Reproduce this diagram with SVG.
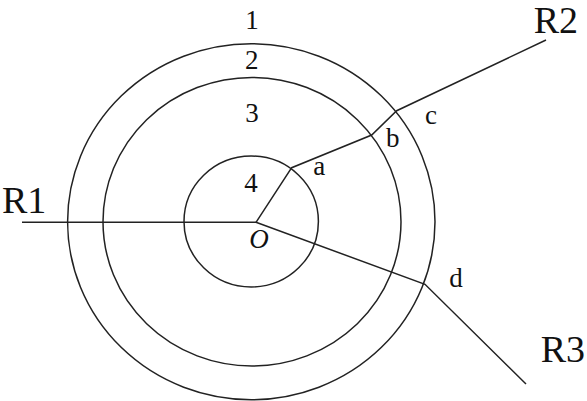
<svg xmlns="http://www.w3.org/2000/svg" width="587" height="401" viewBox="0 0 587 401">
<style>
.c{fill:none;stroke:#222;stroke-width:1.5}
.l{fill:none;stroke:#222;stroke-width:1.5;stroke-linejoin:miter}
.t{font-family:"Liberation Serif",serif;font-size:27px;fill:#111;text-anchor:middle}
.R{font-family:"Liberation Serif",serif;font-size:38px;fill:#111}
</style>
<rect width="587" height="401" fill="#fff"/>
<g id="outer"><ellipse class="c" cx="251.3" cy="221.7" rx="183.7" ry="178"/></g>
<g id="middle"><ellipse class="c" cx="252" cy="221.7" rx="149" ry="144.3"/></g>
<g id="inner"><ellipse class="c" cx="251.2" cy="221.5" rx="67.2" ry="65.5"/></g>
<g id="connectors">
<polyline class="l" points="22,222.3 256,222.3"/>
<polyline class="l" points="256,222.3 291.7,167.7 371.7,135 396.7,110.7 546,40"/>
<polyline class="l" points="256,222.3 425,284.3 526,384"/>
</g>
<g id="labels">
<text class="t" x="252" y="29">1</text>
<text class="t" x="251.7" y="69">2</text>
<text class="t" x="252" y="122">3</text>
<text class="t" x="251" y="192">4</text>
<text class="t" x="259" y="248.3" font-style="italic">O</text>
<text class="t" x="319.3" y="175">a</text>
<text class="t" x="392.7" y="146.7">b</text>
<text class="t" x="431" y="124.3">c</text>
<text class="t" x="456" y="286.7">d</text>
<text class="R" x="2" y="212.7">R1</text>
<text class="R" x="578" y="33" font-size="37" text-anchor="end">R2</text>
<text class="R" x="585" y="361.7" text-anchor="end">R3</text>
</g>
</svg>
